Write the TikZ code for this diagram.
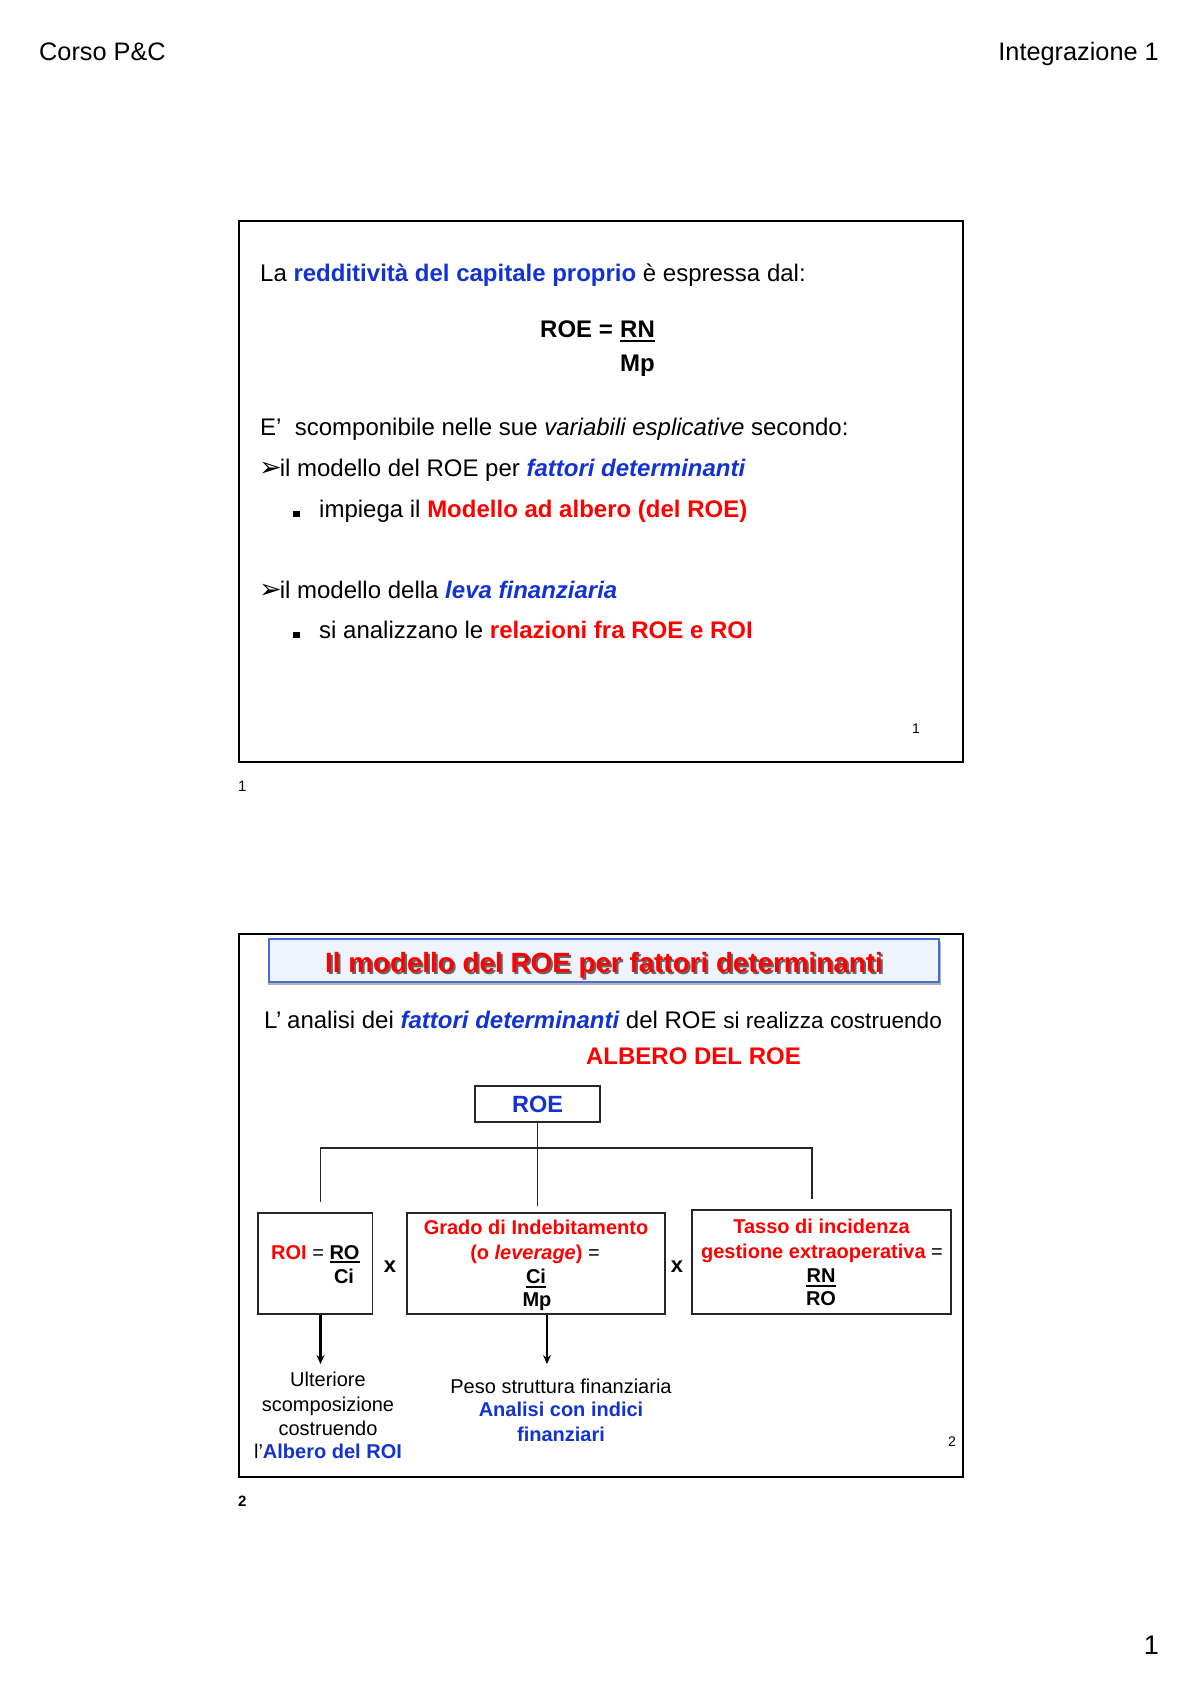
\documentclass[tikz,border=0pt]{standalone}
\usepackage{fontspec}
\setmainfont{Liberation Sans}
\newfontfamily\symfont{DejaVu Sans}
\usetikzlibrary{arrows.meta}
\definecolor{myblue}{RGB}{18,50,210}
\definecolor{myred}{RGB}{255,0,0}
\definecolor{titleborder}{RGB}{70,110,210}
\definecolor{titlefill}{RGB}{238,243,253}
\newcommand{\fs}[1]{\fontsize{#1}{#1}\selectfont}
\newcommand{\tri}{{\symfont\fontsize{27}{27}\selectfont\kern-1pt ➢\kern-2pt}}
\newcommand{\sqbul}{\rule{6.5pt}{6.5pt}}
\tikzset{
  slideframe/.style={draw=black, line width=2.6pt},
  txt/.style={anchor=base west, inner sep=0pt, font=\fs{24}},
  boxtxt/.style={anchor=base, inner sep=0pt, font=\fs{20}},
  treebox/.style={draw=black!85, line width=1.1pt, minimum width=#1, inner sep=0pt},
  conn/.style={draw=black!85, line width=1.1pt},
  arr/.style={draw=black, line width=1.6pt, -{Stealth[length=9pt,width=8pt]}},
  ul/.style={line width=2.4pt},
}
\begin{document}
\begin{tikzpicture}[x=1pt,y=-1pt]
\useasboundingbox[fill=white] (0,0) rectangle (1200,1698);

% header
\node[txt, font=\fs{25.3}] (hdl) at (39,60) {Corso P\&C};
\node[txt, anchor=base east, font=\fs{25.3}] (hdr) at (1159,60) {Integrazione 1};
\node[txt, anchor=base east, font=\fs{27}] (pgn) at (1159,1654) {1};

% ---------------- slide 1 ----------------
\node[slideframe, minimum width=724, minimum height=541, inner sep=0pt] (s1) at (601,491.5) {};
\node[txt, font=\fs{15}] (s1lab) at (238,791) {1};
\node[txt, font=\fs{14}] (s1num) at (912,733) {1};

\node[txt] (a1) at (260,281) {La \textcolor{myblue}{\bfseries redditività del capitale proprio} è espressa dal:};
\node[txt, font=\fs{24}\bfseries] (roeq) at (540,337) {ROE =};
\node[txt, font=\fs{24}\bfseries] (rn1) at (620,337) {RN};
\draw[ul] ([yshift=-4pt]rn1.base west) -- ([yshift=-4pt]rn1.base east);
\node[txt, font=\fs{24}\bfseries] (mp1) at (620,371) {Mp};
\node[txt] (a2) at (260,435) {E\textquoteright\ \ scomponibile nelle sue \textit{variabili esplicative} secondo:};
\node[txt] (a3) at (260,476) {\tri il modello del ROE per \textcolor{myblue}{\bfseries\itshape fattori determinanti}};
\node[txt] (b3) at (293,517) {\sqbul};
\node[txt] (a4) at (319,517) {impiega il \textcolor{myred}{\bfseries Modello ad albero (del ROE)}};
\node[txt] (a5) at (260,598) {\tri il modello della \textcolor{myblue}{\bfseries\itshape leva finanziaria}};
\node[txt] (b5) at (293,638) {\sqbul};
\node[txt] (a6) at (319,638) {si analizzano le \textcolor{myred}{\bfseries relazioni fra ROE e ROI}};

% ---------------- slide 2 ----------------
\node[slideframe, minimum width=724, minimum height=543, inner sep=0pt] (s2) at (601,1205.5) {};
\node[txt, font=\fs{15}\bfseries] (s2lab) at (238,1506) {2};
\node[txt, font=\fs{14}] (s2num) at (948,1446) {2};

% title
\fill[black!30] (268,942) rectangle (941,985);
\node[draw=titleborder, fill=titlefill, line width=1.3pt, minimum width=670, minimum height=43, inner sep=0pt] (title) at (604,960.5) {};
\node[anchor=base, inner sep=0pt, font=\fs{27.8}\bfseries, text=black!60] (titsh) at (606,974) {Il modello del ROE per fattori determinanti};
\node[anchor=base, inner sep=0pt, font=\fs{27.8}\bfseries, text=myred] (tit) at (604,972) {Il modello del ROE per fattori determinanti};

\node[txt] (c1) at (264,1028) {L\textquoteright\kern-1pt\ analisi dei \textcolor{myblue}{\bfseries\itshape fattori determinanti} del ROE {\fs{22.6}si realizza costruendo}};
\node[txt, anchor=base, font=\fs{24}\bfseries, text=myred] (alb) at (693.5,1064) {ALBERO DEL ROE};

% tree
\node[treebox=125, minimum height=36, font=\fs{23.5}\bfseries, text=myblue] (roe) at (537.5,1104) {ROE};
\node[treebox=114.5, minimum height=101] (roi) at (315.25,1263.5) {};
\node[treebox=258, minimum height=101] (mid) at (536,1263.5) {};
\node[treebox=259, minimum height=104] (tax) at (821.5,1262) {};

\coordinate (jl) at (320.5,1148);
\coordinate (jr) at (812,1148);
\draw[conn] (roe.south) -- ([yshift=6pt]roe.south |- mid.north);
\draw[conn] ([yshift=10pt]jl |- roi.north) -- (jl) -- (jr) -- ([yshift=10pt]jr |- tax.north);

% ROI box content
\node[boxtxt, anchor=base west, font=\fs{20}] (roit) at (271,1259) {\textcolor{myred}{\bfseries ROI} = \textbf{RO}};
\draw[ul, line width=2pt] ([yshift=-3pt]roit.base east) -- ++(-30,0);
\node[boxtxt, font=\fs{20}\bfseries] (ci1) at (344,1283) {Ci};

\node[font=\fs{22}\bfseries] (x1) at (390,1267) {x};
\node[font=\fs{22}\bfseries] (x2) at (677,1267) {x};

% middle box content
\node[boxtxt, font=\fs{20}\bfseries, text=myred] (m1) at (536,1234) {Grado di Indebitamento};
\node[boxtxt] (m2) at (535,1259) {\textcolor{myred}{\bfseries (o \textit{leverage})} =};
\node[boxtxt, font=\fs{20}\bfseries] (m3) at (536,1283) {Ci};
\draw[ul, line width=2.2pt] ([yshift=-4pt]m3.base west) -- ([yshift=-4pt]m3.base east);
\node[boxtxt, font=\fs{20}\bfseries] (m4) at (537,1306) {Mp};

% right box content
\node[boxtxt, font=\fs{20}\bfseries, text=myred] (t1) at (821.5,1233) {Tasso di incidenza};
\node[boxtxt] (t2) at (822,1258) {\textcolor{myred}{\bfseries gestione extraoperativa} =};
\node[boxtxt, font=\fs{20}\bfseries] (t3) at (821,1282) {RN};
\draw[ul, line width=2.2pt] ([yshift=-4pt]t3.base west) -- ([yshift=-4pt]t3.base east);
\node[boxtxt, font=\fs{20}\bfseries] (t4) at (821,1305) {RO};

% arrows
\coordinate (al) at (320.5,1364);
\coordinate (am) at (547,1364);
\draw[arr, line width=2.2pt] (roi.south -| al) -- (al);
\draw[arr, line width=1.2pt] (mid.south -| am) -- (am);

% texts below
\node[boxtxt] (u1) at (328,1386) {Ulteriore};
\node[boxtxt] (u2) at (328,1411) {scomposizione};
\node[boxtxt] (u3) at (328,1435) {costruendo};
\node[boxtxt] (u4) at (328,1458) {l'\textcolor{myblue}{\bfseries Albero del ROI}};

\node[boxtxt] (p1) at (561,1393) {Peso struttura finanziaria};
\node[boxtxt, font=\fs{20}\bfseries, text=myblue] (p2) at (561,1416) {Analisi con indici};
\node[boxtxt, font=\fs{20}\bfseries, text=myblue] (p3) at (561,1441) {finanziari};
\end{tikzpicture}
\end{document}
